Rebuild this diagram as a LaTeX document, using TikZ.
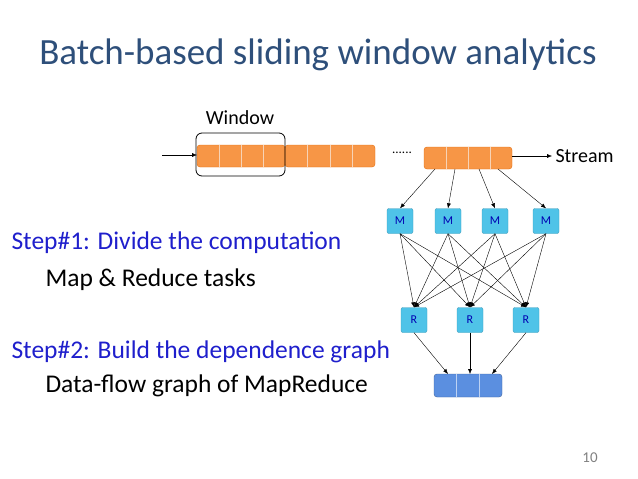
\documentclass[tikz,border=0pt]{standalone}
\usepackage{fontspec}
\setmainfont{Carlito}
\usetikzlibrary{arrows.meta}
\definecolor{ttl}{HTML}{2E4F7A}
\definecolor{stp}{HTML}{1F1FCC}
\definecolor{org}{HTML}{F79646}
\definecolor{orgd}{HTML}{E46C0A}
\definecolor{cyn}{HTML}{4FC3E8}
\definecolor{blu}{HTML}{5B8FE0}
\begin{document}
\begin{tikzpicture}[x=1pt,y=-1pt,
 bar/.style={draw=orgd,rounded corners=3pt,fill=org},
 mr/.style={draw=cyn!80!black,fill=cyn,rounded corners=2pt,minimum width=26pt,minimum height=25pt,inner sep=0pt,font=\fontsize{12}{12}\selectfont,text=blue!70!black},
 arr/.style={-{Latex[length=5pt,width=4pt]},thin},
 steptxt/.style={anchor=west,text=stp,font=\fontsize{25.5}{28}\selectfont},
 subtxt/.style={anchor=west,font=\fontsize{25.5}{28}\selectfont}]
\useasboundingbox (0,0) rectangle (638,479);
\node (title) at (318,55) {\fontsize{37}{40}\selectfont\color{ttl}Batch-based sliding window analytics};
% stream 1
\draw[bar] (197,145) rectangle (285,167);
\draw[bar] (285,145) rectangle (375,167);
\foreach \x in {219,241,263,307,330,352} \draw[white!70!orgd] (\x,145)--(\x,167);
\node[draw,thick,rounded corners=6pt,minimum width=89pt,minimum height=43pt] (win) at (240.5,154.5) {};
\node (wl) at (240,118) {\fontsize{20}{22}\selectfont Window};
\coordinate (in) at (162,155);
\coordinate (s1) at (197,155);
\draw[arr] (in)--(s1);
\node (dots) at (402,153) {\fontsize{13}{13}\selectfont ......};
% stream 2
\draw[bar] (424,147) rectangle (512,169);
\foreach \x in {446,468,490} \draw[white!70!orgd] (\x,147)--(\x,169);
\coordinate (s2e) at (512,156);
\node[anchor=west] (st) at (552,156) {\fontsize{20}{22}\selectfont Stream};
\draw[arr] (s2e)--(st.west);
\foreach \i/\x in {1/400,2/448,3/495,4/546} \node[mr] (m\i) at (\x,221) {M};
\foreach \i/\x in {1/414,2/470,3/526} \node[mr] (r\i) at (\x,320) {R};
\foreach \i/\x in {1/435,2/455,3/479,4/498} {\coordinate (o\i) at (\x,169); \draw[arr] (o\i)--(m\i.north);}
\foreach \i in {1,...,4} \foreach \j in {1,2,3} \draw[arr] (m\i.south)--(r\j.north);
\draw[fill=blu,draw=blu!70!black,rounded corners=3pt] (434,374) rectangle (502,397);
\foreach \x in {456,479} \draw[white!60!blu] (\x,374)--(\x,397);
\coordinate (t1) at (448,374); \coordinate (t2) at (470,374); \coordinate (t3) at (492,374);
\draw[arr] (r1.south)--(t1); \draw[arr] (r2.south)--(t2); \draw[arr] (r3.south)--(t3);
\node[steptxt] (a) at (8,243) {Step\#1: Divide the computation};
\node[subtxt] (b) at (42,280) {Map \& Reduce tasks};
\node[steptxt] (c) at (8,352) {Step\#2: Build the dependence graph};
\node[subtxt] (d) at (42,386) {Data-flow graph of MapReduce};
\node (pg) at (590,458) {\fontsize{15}{16}\selectfont\color{gray}10};
\end{tikzpicture}
\end{document}
